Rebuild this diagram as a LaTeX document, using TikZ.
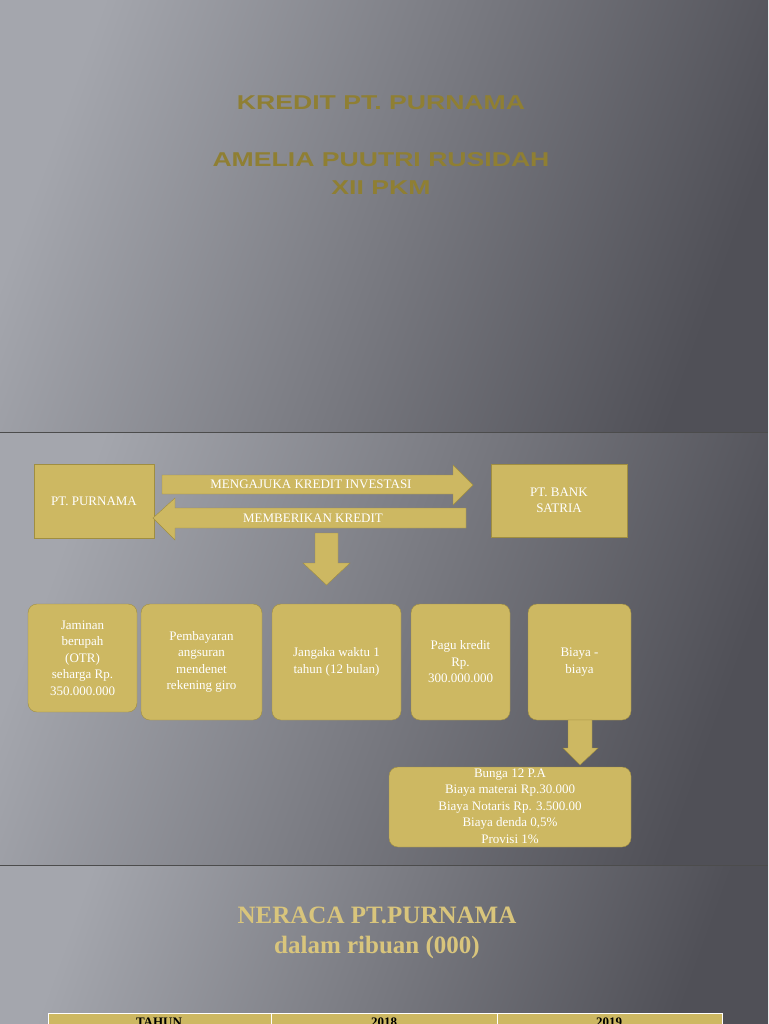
\documentclass[tikz,border=0pt]{standalone}
\usepackage{fontspec}
\setmainfont{Liberation Serif}
\newfontfamily\ttlfont{Liberation Sans}
\usetikzlibrary{shapes.arrows}
\definecolor{gold}{HTML}{CDB862}
\definecolor{goldedge}{HTML}{A08E40}
\definecolor{ttl}{HTML}{8F7F33}
\definecolor{ttltwo}{HTML}{D9C57C}
\definecolor{bgl}{HTML}{A4A6AD}
\definecolor{bgd}{HTML}{505057}
\tikzset{
  gbox/.style={draw=goldedge, fill=gold, text=white, align=center, font=\fontsize{13}{16.5}\selectfont, inner sep=2pt},
  rbox/.style={gbox, rounded corners=9pt},
  garrow/.style={draw=goldedge, fill=gold},
  slide/.style={shade, left color=bgl, right color=bgd, shading angle=70},
  ttlstyle/.style={text=ttl, font=\ttlfont\bfseries\fontsize{20}{28}\selectfont, align=center, xscale=1.33, transform shape}
}
\begin{document}
\begin{tikzpicture}[x=1pt,y=-1pt]
\useasboundingbox (0,0) rectangle (768,1024);
\fill[slide] (0,0) rectangle (768,432);
\fill[slide] (0,433) rectangle (768,865);
\fill[slide] (0,866) rectangle (768,1024);
\fill[black!70] (0,432) rectangle (768,433);
\fill[black!70] (0,865) rectangle (768,866);
% slide 1 titles
\node (t1) [ttlstyle] at (381,103) {KREDIT PT. PURNAMA};
\node (t2) [ttlstyle] at (381,174) {AMELIA PUUTRI RUSIDAH\\XII PKM};
% slide 2
\node (pp) [gbox, minimum width=120pt, minimum height=74pt] at (94,501) {PT. PURNAMA};
\node (bank) [gbox, minimum width=136pt, minimum height=73pt] at (559,500.5) {PT. BANK\\SATRIA};
\draw[garrow] (162,475) -- (453,475) -- (453,465) -- (473,485) -- (453,505) -- (453,494) -- (162,494) -- cycle;
\node (l1) [text=white, font=\fontsize{13}{14}\selectfont] at (311,484) {MENGAJUKA KREDIT INVESTASI};
\draw[garrow] (466,508) -- (175,508) -- (175,498) -- (153,518) -- (175,540) -- (175,528) -- (466,528) -- cycle;
\node (l2) [text=white, font=\fontsize{13}{14}\selectfont] at (313,518) {MEMBERIKAN KREDIT};
\draw[garrow] (315,533) -- (338,533) -- (338,563) -- (350,563) -- (326.5,585) -- (303,563) -- (315,563) -- cycle;
\node (b1) [rbox, minimum width=109pt, minimum height=108pt] at (82.5,658) {Jaminan\\berupah\\(OTR)\\seharga Rp.\\350.000.000};
\node (b2) [rbox, minimum width=121pt, minimum height=116pt] at (201.5,662) {Pembayaran\\angsuran\\mendenet\\rekening giro};
\node (b3) [rbox, minimum width=129pt, minimum height=116pt] at (336.5,662) {Jangaka waktu 1\\tahun (12 bulan)};
\node (b4) [rbox, minimum width=99pt, minimum height=116pt] at (460.5,662) {Pagu kredit\\Rp.\\300.000.000};
\node (b5) [rbox, minimum width=103pt, minimum height=116pt] at (579.5,662) {Biaya -\\biaya};
\draw[garrow] (568,720) -- (592,720) -- (592,748) -- (598,748) -- (580,765) -- (563,748) -- (568,748) -- cycle;
\node (b6) [rbox, minimum width=242pt, minimum height=80pt, inner sep=0pt] at (510,807) {\\[-10pt]Bunga 12 P.A\\Biaya materai Rp.30.000\\Biaya Notaris Rp. 3.500.00\\Biaya denda 0,5\%\\Provisi 1\%};
% slide 3
\node (n1) [text=ttltwo, font=\bfseries\fontsize{25}{30}\selectfont, align=center] at (377,933) {NERACA PT.PURNAMA\\dalam ribuan (000)};
\begin{scope}
\clip (0,866) rectangle (768,1024);
\draw[fill=gold, draw=white!80] (48,1013) rectangle (722,1040);
\draw[white!80] (271,1013) -- (271,1040) (497,1013) -- (497,1040);
\node (h1) [font=\bfseries\fontsize{13}{14}\selectfont, anchor=north] at (159,1014) {TAHUN};
\node (h2) [font=\bfseries\fontsize{13}{14}\selectfont, anchor=north] at (384,1014) {2018};
\node (h3) [font=\bfseries\fontsize{13}{14}\selectfont, anchor=north] at (609,1014) {2019};
\end{scope}
\end{tikzpicture}
\end{document}
